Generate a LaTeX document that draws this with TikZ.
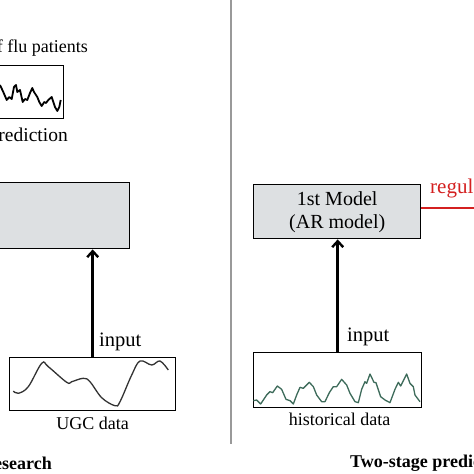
\documentclass[tikz,border=0pt]{standalone}
\usepackage{fontspec}
\setmainfont{Liberation Serif}
\usepackage{tikz}
\usetikzlibrary{arrows.meta}
\usetikzlibrary{calc}

\definecolor{boxgray}{HTML}{DDE0E2}
\definecolor{regred}{HTML}{D42020}
\definecolor{histgreen}{HTML}{3D6B5A}

\tikzset{
    modelbox/.style={draw,line width=1.4pt,fill=boxgray,minimum width=#1,minimum height=54pt,align=center,inner sep=0pt,font=\fontsize{20}{23}\selectfont},
    databox/.style={draw,line width=1.4pt,minimum width=#1,minimum height=53pt,inner sep=0pt},
    txt/.style={font=\fontsize{18}{21}\selectfont,inner sep=0pt},
    bigtxt/.style={font=\fontsize{20.5}{23}\selectfont,inner sep=0pt},
    inarrow/.style={-{Straight Barb[length=6pt,width=11pt,line width=2.4pt]},line width=3pt}
}

\begin{document}
\begin{tikzpicture}[x=1pt,y=-1pt]
        \useasboundingbox (0,0) rectangle (474,474);
        \clip (0,0) rectangle (474,474);
        \fill[white] (0,0) rectangle (474,474);
        % divider between the two panels
        \draw [line width=1.5pt,color=black!40] (231,0) -- (231,444);

        % left panel
        \node[txt,anchor=east] (flutitle) at (88,48) {Number of flu patients};
        \node[databox=104pt,anchor=north east] (flubox) at (64,65) {};
        \draw [line width=1.8pt,line join=round] plot coordinates {(0,85) (3.3,92) (6.7,100) (9.3,97) (11.7,99) (14,87) (16,85) (17.3,92) (20,90) (22.7,102) (25,99) (27.3,100) (30,93) (32.3,88) (34,92) (36,95) (37.3,97) (39.3,102) (41.7,106) (44.3,102) (46,103) (48.3,100) (51.7,97) (53.3,102) (55,107) (57.3,111) (59.3,107) (60.7,100)};
        \node[txt,font=\fontsize{19.5}{22}\selectfont,anchor=east] (flupred) at (68,135) {Prediction};
        \node[modelbox=180pt,anchor=north east,minimum height=66pt] (lmodel) at (130,182) {};
        \node[databox=166pt,anchor=north west] (ugc) at (9,357) {};
        \draw [line width=1.3pt,color=black!80] plot[smooth,tension=0.6] coordinates {(13.3,391) (18.3,393.3) (28.3,386.7) (41.7,363.3) (48.3,366.7) (66.7,382.3) (71.7,381.7) (83.3,378.3) (90,381.7) (101.7,397.7) (115,405.7) (120,401.7) (131.7,375) (140,361) (151.7,365) (160,361) (168.3,370)};
        \node[txt,anchor=north] (ugclabel) at ($(ugc.south)+(0,5)$) {UGC data};
        \draw [inarrow] (ugc.north) -- (ugc.north |- lmodel.south) node[bigtxt,pos=0,anchor=south west,xshift=5pt,yshift=5pt] (linput) {input};
        \node[txt,font=\fontsize{18}{21}\selectfont\bfseries,anchor=east] (lcaption) at (52,463) {Previous research};

        % right panel
        \node[modelbox=167pt,anchor=north west] (rmodel) at (253,184) {1st Model\\(AR model)};
        \draw [line width=2pt,color=regred] ([yshift=4pt]rmodel.east) -- ++(60,0) coordinate (regend);
        \node[txt,font=\fontsize{21}{24}\selectfont,anchor=west,color=regred] (reglabel) at (430,188) {regularization};
        \node[databox=168pt,anchor=north west,minimum height=55pt] (hist) at (253,352) {};
        \begin{scope}[shift={(250,350)},x=0.3333pt,y=-0.3333pt]
            \draw [line width=1.3pt,color=histgreen,line join=round] plot coordinates {(10,152) (20,150) (32,162) (50,135) (60,125) (68,128) (82,108) (95,118) (108,148) (120,152) (130,162) (140,135) (150,112) (160,115) (178,97) (190,110) (200,135) (215,155) (225,155) (238,128) (250,110) (260,110) (275,88) (290,105) (300,130) (315,155) (325,158) (335,118) (345,95) (350,100) (360,72) (372,97) (378,98) (392,140) (405,150) (420,158) (435,118) (445,97) (452,108) (470,72) (480,100) (490,110) (495,135) (510,155)};
        \end{scope}
        \node[txt,anchor=north] (histlabel) at ($(hist.south)+(2,4)$) {historical data};
        \draw [inarrow] (hist.north) -- (hist.north |- rmodel.south) node[bigtxt,pos=0,anchor=south west,xshift=8pt,yshift=5pt] (rinput) {input};
        \node[txt,font=\fontsize{18}{21}\selectfont\bfseries,anchor=west] (rcaption) at (350,463) {Two-stage prediction};
    \end{tikzpicture}
\end{document}
